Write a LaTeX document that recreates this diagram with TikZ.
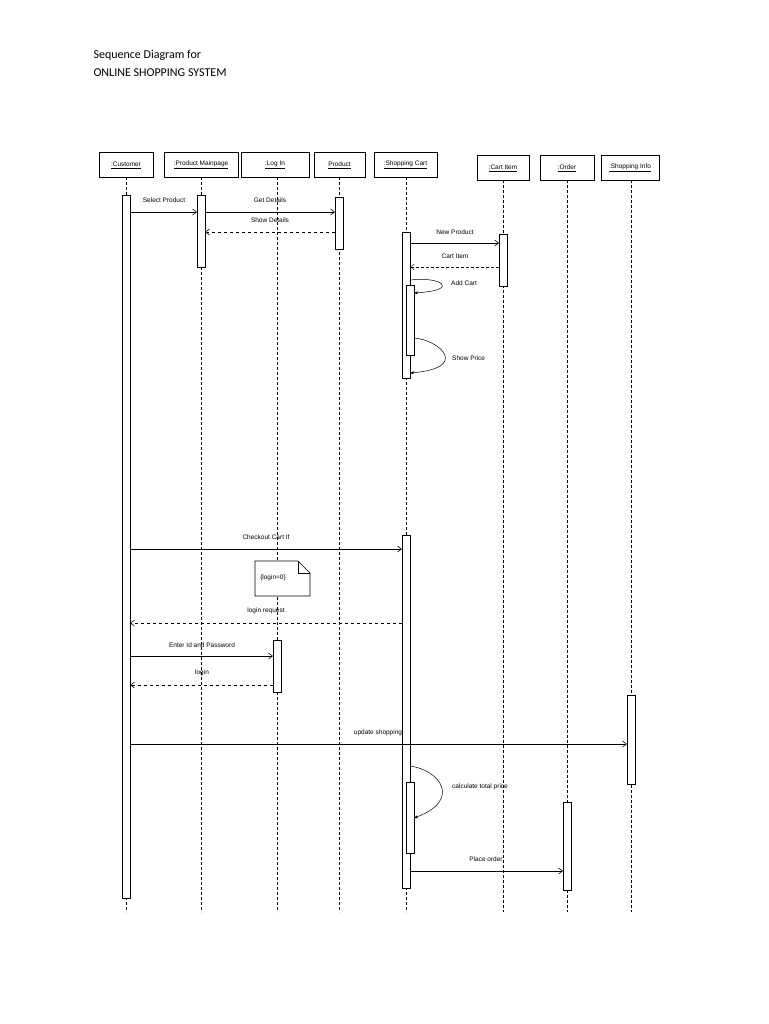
\documentclass[tikz,border=0pt]{standalone}
\usepackage{fontspec}
\setmainfont{Liberation Sans}
\newfontfamily\titlefont{Carlito}
\usetikzlibrary{arrows.meta}
\begin{document}
\begin{tikzpicture}[x=1pt,y=-1pt,
  head/.style={draw,thick,minimum height=25pt,inner sep=1pt,font=\fontsize{6.5}{7}\selectfont,fill=white},
  life/.style={densely dashed,line width=0.6pt},
  act/.style={draw,fill=white,line width=0.6pt},
  msg/.style={-{Straight Barb[length=4pt,width=6pt]},line width=0.6pt},
  ret/.style={msg,dashed},
  self/.style={-{Stealth[length=4pt,width=3pt]},line width=0.5pt},
  lbl/.style={font=\fontsize{6.5}{7}\selectfont,inner sep=1pt}]
\useasboundingbox (0,0) rectangle (768,1024);
\node[anchor=west,font=\titlefont\fontsize{12}{14}\selectfont] (t1) at (90,55) {Sequence Diagram for};
\node[anchor=west,font=\titlefont\fontsize{12}{14}\selectfont] (t2) at (90,73) {ONLINE SHOPPING SYSTEM};
% lifelines
\foreach \n/\x in {c/126,pm/201,li/277,p/339,sc/406,ci/503,o/567,si/631}{
  \coordinate (\n e) at (\x,912);}
\draw[life] (126,177) -- (ce); \draw[life] (201,177) -- (pme);
\draw[life] (277,177) -- (lie); \draw[life] (339,177) -- (pe);
\draw[life] (406,177) -- (sce); \draw[life] (503,180) -- (cie);
\draw[life] (567,180) -- (oe); \draw[life] (631,180) -- (sie);
% heads
\node[head,minimum width=54pt] (hc) at (126,165) {\underline{:Customer}};
\node[head,minimum width=74pt] (hpm) at (201,165) {\underline{:Product Mainpage}};
\node[head,minimum width=68pt] (hli) at (275,165) {\underline{:Log In}};
\node[head,minimum width=51pt] (hp) at (339.5,165) {\underline{Product}};
\node[head,minimum width=63pt] (hsc) at (405.5,165) {\underline{:Shopping Cart}};
\node[head,minimum width=52pt] (hci) at (503,168) {\underline{:Cart Item}};
\node[head,minimum width=54pt] (ho) at (567,168) {\underline{:Order}};
\node[head,minimum width=58pt] (hsi) at (630,168) {\underline{:Shopping Info}};
% activations
\draw[act] (122,195) rectangle (130,898);
\draw[act] (197,195) rectangle (205,267);
\draw[act] (335,197) rectangle (343,249);
\draw[act] (402,232) rectangle (410,378);
\draw[act] (406,285) rectangle (414,355);
\draw[act] (499,234) rectangle (507,286);
\draw[act] (402,535) rectangle (410,888);
\draw[act] (406,782) rectangle (414,853);
\draw[act] (273,640) rectangle (281,692);
\draw[act] (627,695) rectangle (635,784);
\draw[act] (563,802) rectangle (571,890);
% coordinates for messages
\coordinate (a1) at (130,212); \coordinate (b1) at (197,212);
\coordinate (a2) at (205,212); \coordinate (b2) at (335,212);
\coordinate (a3) at (335,232); \coordinate (b3) at (205,232);
\coordinate (a4) at (410,243); \coordinate (b4) at (499,243);
\coordinate (a5) at (499,267); \coordinate (b5) at (410,267);
\coordinate (a6) at (410,280); \coordinate (b6) at (414,293);
\coordinate (a7) at (414,338); \coordinate (b7) at (410,373);
\coordinate (a8) at (130,549); \coordinate (b8) at (402,549);
\coordinate (a9) at (402,623); \coordinate (b9) at (130,623);
\coordinate (a10) at (130,656); \coordinate (b10) at (273,656);
\coordinate (a11) at (273,685); \coordinate (b11) at (130,685);
\coordinate (a12) at (130,744); \coordinate (b12) at (627,744);
\coordinate (a13) at (410,766); \coordinate (b13) at (414,818);
\coordinate (a14) at (410,871); \coordinate (b14) at (563,871);
\draw[msg] (a1) -- (b1); \node[lbl] (l1) at (164,200) {Select Product};
\draw[msg] (a2) -- (b2); \node[lbl] (l2) at (270,200) {Get Details};
\draw[ret] (a3) -- (b3); \node[lbl] (l3) at (270,220) {Show Details};
\draw[msg] (a4) -- (b4); \node[lbl] (l4) at (455,232) {New Product};
\draw[ret,densely dashed,line width=0.4pt] (a5) -- (b5); \node[lbl] (l5) at (455,256) {Cart Item};
\draw[self] (a6) .. controls (440,276) and (462,290) .. (b6); \node[lbl,anchor=west] (l6) at (450,283) {Add Cart};
\draw[self] (a7) .. controls (440,340) and (470,368) .. (b7); \node[lbl,anchor=west] (l7) at (451,358) {Show Price};
\draw[msg] (a8) -- (b8); \node[lbl] (l8) at (266,537) {Checkout Cart If};
\draw[ret] (a9) -- (b9); \node[lbl] (l9) at (266,611) {login request};
\draw[msg] (a10) -- (b10); \node[lbl] (l10) at (202,645) {Enter Id and Password};
\draw[ret] (a11) -- (b11); \node[lbl] (l11) at (202,673) {login};
\draw[msg] (a12) -- (b12); \node[lbl] (l12) at (378,733) {update shopping};
\draw[self] (a13) .. controls (440,770) and (462,800) .. (b13); \node[lbl,anchor=west] (l13) at (451,787) {calculate total price};
\draw[msg] (a14) -- (b14); \node[lbl] (l14) at (486,859) {Place order};
% note
\draw[fill=white,line width=0.6pt] (255,561) -- (298,561) -- (310,573) -- (310,596) -- (255,596) -- cycle;
\draw[line width=0.4pt] (298,561) -- (298,573) -- (310,573);
\node[lbl] (note) at (273,578) {\{login=0\}};
\end{tikzpicture}
\end{document}
